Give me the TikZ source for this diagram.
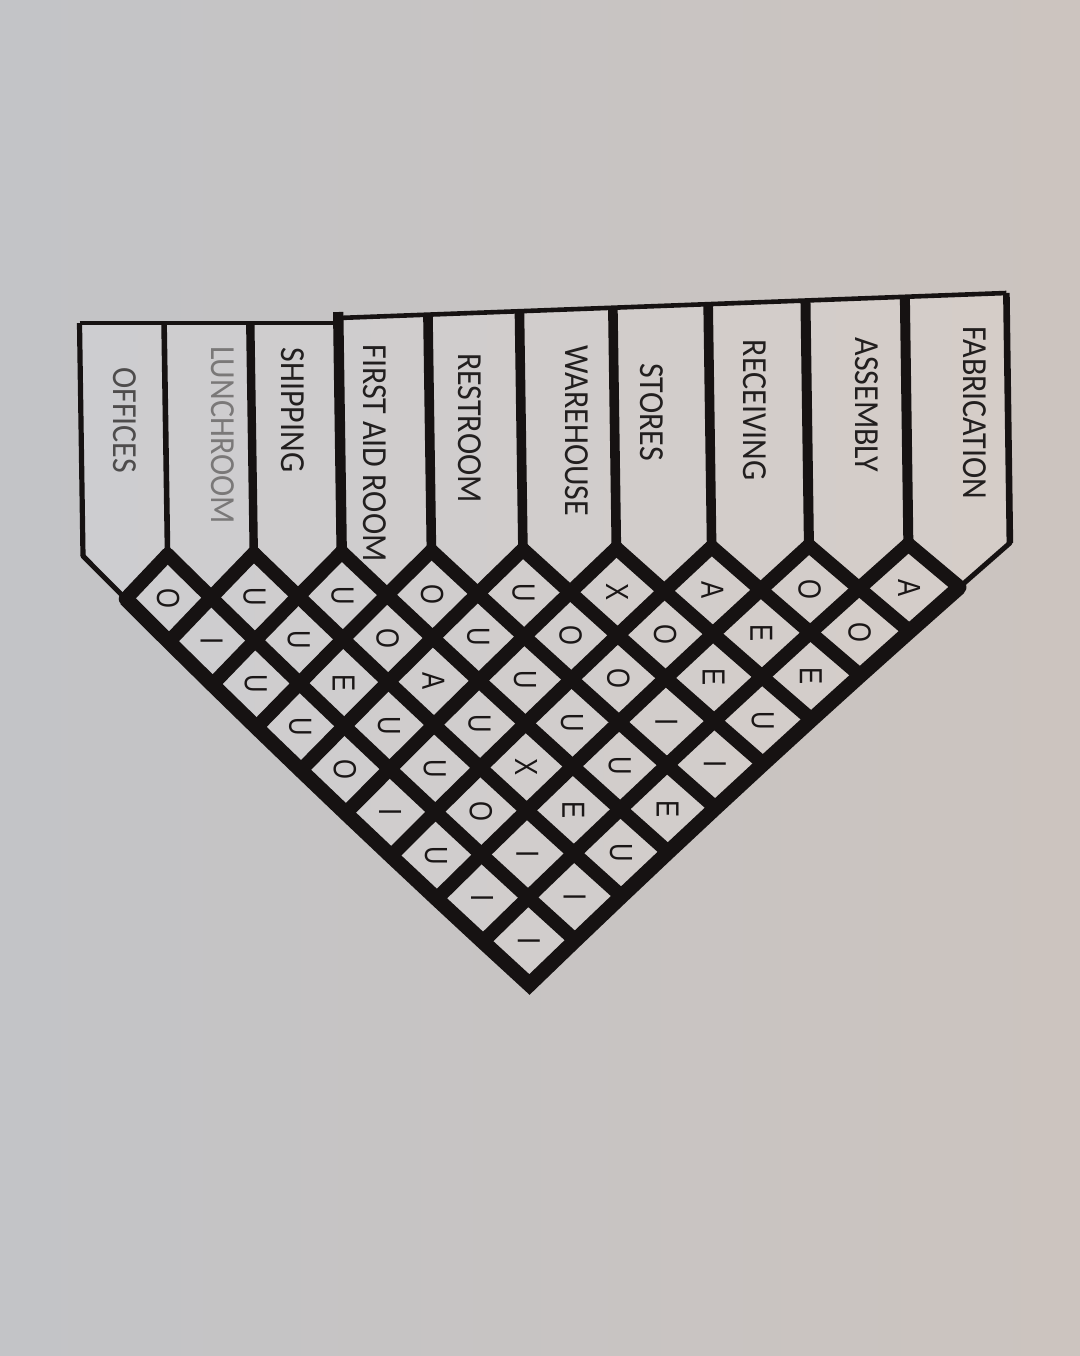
\documentclass[tikz,border=0pt]{standalone}
\usepackage{fontspec}
\newfontfamily\labfont{Carlito}
\newfontfamily\letfont{Liberation Sans}
\definecolor{bgl}{HTML}{C3C4C7}
\definecolor{bgr}{HTML}{CCC4BF}
\definecolor{celll}{HTML}{CDCDD0}
\definecolor{cellr}{HTML}{D5CDC8}
\definecolor{linec}{HTML}{161212}
\definecolor{labc}{HTML}{221F1F}
\definecolor{labl}{HTML}{7A7878}
\definecolor{labm}{HTML}{4E4C4C}
\definecolor{letc}{HTML}{1A1616}
\pgfmathdeclarefunction{rmx}{2}{\pgfmathparse{(82.95*#1+83)/(1-0.009651*#1)+1.3*#2}}
\pgfmathdeclarefunction{rmy}{2}{\pgfmathparse{549.5+87*#2-1.3*(#1-5)}}
\tikzset{
  gridl/.style={draw=linec, line width=7pt, line cap=round, line join=round},
  outerthick/.style={draw=linec, line width=7.5pt, line join=miter},
  outerthin/.style={draw=linec, line width=2.5pt, line cap=round},
  bnd/.style={draw=linec},
  topl/.style={draw=linec, line width=2.3pt},
  lab/.style={rotate=-90, yscale=1.1, inner sep=0pt, text=labc, font={\labfont\fontsize{16}{19}\selectfont}},
  relt/.style={rotate=-90, xscale=0.8, inner sep=0pt, text=letc, font={\letfont\fontsize{16}{19}\selectfont}}
}
\begin{document}
\begin{tikzpicture}[x=0.5pt,y=-0.5pt]
\shade[left color=bgl, right color=bgr] (0,0) rectangle (1080,1356);
\useasboundingbox (0,0) rectangle (1080,1356);
% grid vertices
\foreach \a in {0,...,10}{
  \foreach \b in {\a,...,10}{
    \coordinate (V-\a-\b) at ({rmx((\a+\b)/2,(\b-\a)/2)},{rmy((\a+\b)/2,(\b-\a)/2)});
  }
}
% column tops
\foreach \k/\yt in {0/323,1/323,2/323,3/318,4/314.5,5/311,6/307.6,7/304,8/300.4,9/296.7,10/293}{
  \coordinate (T-\k) at ({rmx(\k,0)-3.5},\yt);
}
\coordinate (T-3l) at ({rmx(3,0)-3.5},323);
\coordinate (T-3h) at ({rmx(3,0)-3.5},312);
% chart fill
\shade[left color=celll, right color=cellr] (T-0) -- (T-1) -- (T-2) -- (T-3l) -- (T-3) -- (T-4) -- (T-5) -- (T-6) -- (T-7) -- (T-8) -- (T-9) -- (T-10)
  -- (V-10-10) -- (V-0-10) -- (V-0-0) -- cycle;
% vertical boundaries
\foreach \k/\w in {0/2.6pt,1/2.8pt,2/4.2pt,4/4.8pt,5/4.8pt,6/4.8pt,7/4.8pt,8/5pt,9/5pt,10/3.3pt}{
  \draw[bnd, line width=\w] (T-\k) -- (V-\k-\k);
}
\draw[bnd, line width=5.2pt] (T-3h) -- (V-3-3);
% top line
\draw[topl] (T-0) -- (T-3l);
\draw[topl] (T-3) -- (T-10);
% interior diagonals, down-right
\foreach \a [evaluate=\a as \an using int(\a+1)] in {1,...,9}{
  \draw[gridl] (V-\a-\a) \foreach \b in {\an,...,10}{ -- (V-\a-\b) };
}
% interior diagonals, down-left
\foreach \b [evaluate=\b as \bm using int(\b-1)] in {1,...,9}{
  \draw[gridl] (V-\b-\b) \foreach \a in {\bm,...,0}{ -- (V-\a-\b) };
}
% outer edges
\draw[outerthin] (V-0-0) -- (V-0-1);
\draw[outerthin] (V-10-10) -- (V-9-10);
\draw[outerthick] (V-0-1) \foreach \b in {2,...,10}{ -- (V-0-\b) } \foreach \a in {1,...,9}{ -- (V-\a-10) };
% relationship letters
\foreach \p/\q/\l [count=\n] in {
  1/2/O, 2/3/U, 3/4/U, 4/5/O, 5/6/U, 6/7/X, 7/8/A, 8/9/O, 9/10/A,
  1/3/I, 2/4/U, 3/5/O, 4/6/U, 5/7/O, 6/8/O, 7/9/E, 8/10/O,
  1/4/U, 2/5/E, 3/6/A, 4/7/U, 5/8/O, 6/9/E, 7/10/E,
  1/5/U, 2/6/U, 3/7/U, 4/8/U, 5/9/I, 6/10/U,
  1/6/O, 2/7/U, 3/8/X, 4/9/U, 5/10/I,
  1/7/I, 2/8/O, 3/9/E, 4/10/E,
  1/8/U, 2/9/I, 3/10/U,
  1/9/I, 2/10/I,
  1/10/I}{
  \node[relt] (c\n) at ({rmx((\p+\q-1)/2,(\q-\p)/2)},{rmy((\p+\q-1)/2,(\q-\p)/2)}) {\l};
}
% department labels
\node[lab] (fab) at (975,413) {FABRICATION};
\node[lab] (asm) at (867,405) {ASSEMBLY};
\node[lab] (rec) at (755,410) {RECEIVING};
\node[lab] (sto) at (652,412) {STORES};
\node[lab] (wh) at (577,431) {WAREHOUSE};
\node[lab] (rr) at (470,428) {RESTROOM};
\node[lab] (fa) at (375,453) {FIRST AID ROOM};
\node[lab] (sh) at (293,410) {SHIPPING};
\node[lab, text=labl] (lu) at (223,435) {LUNCHROOM};
\node[lab, text=labm] (of) at (125,420) {OFFICES};
\end{tikzpicture}
\end{document}
